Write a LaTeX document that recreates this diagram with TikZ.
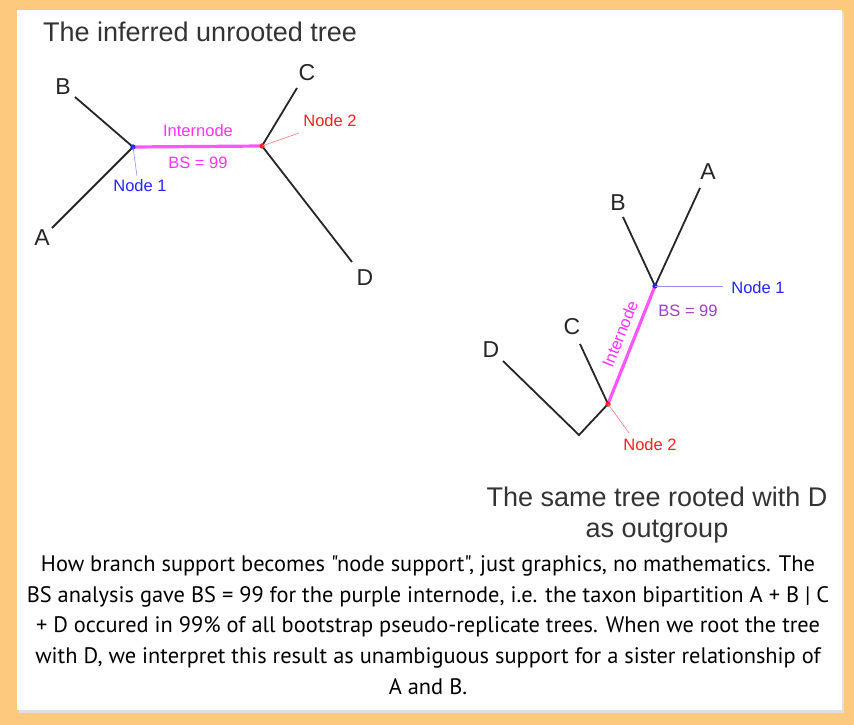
\documentclass[tikz,border=0pt]{standalone}
\usepackage{fontspec}
\setmainfont{Liberation Sans}
\newfontfamily\capfont{PT Sans}
\definecolor{bgorange}{HTML}{FCC97E}
\definecolor{inpink}{HTML}{FF55FF}
\definecolor{bsmag}{HTML}{FF33FF}
\definecolor{bspurp}{HTML}{A040C8}
\definecolor{nblue}{HTML}{2525FF}
\definecolor{nred}{HTML}{FF2020}
\definecolor{txtgray}{HTML}{333333}
\tikzset{
  branch/.style={line width=1.8pt, draw=black!85},
  inter/.style={line width=3.2pt, draw=inpink},
  leaf/.style={font=\fontsize{23}{23}\selectfont, text=black!85, inner sep=0pt},
  small/.style={font=\fontsize{16.5}{16.5}\selectfont, inner sep=0pt},
  ptr/.style={line width=0.6pt},
  dot/.style={circle, fill, inner sep=0pt, minimum size=5pt},
  title/.style={font=\fontsize{27}{31}\selectfont, text=txtgray, inner sep=0pt, align=center},
}
\begin{document}
\begin{tikzpicture}[x=1pt,y=-1pt]
\fill[bgorange] (0,0) rectangle (854,725);
\useasboundingbox (0,0) rectangle (854,725);
\fill[black!12] (19,12) rectangle (844,713);
\fill[white] (17,10) rectangle (842,710);

% ---- left: unrooted tree
\node[title, anchor=west] (t1) at (43,32) {The inferred unrooted tree};
\node[dot, nblue] (n1) at (133,147) {};
\node[dot, nred] (n2) at (262,146) {};
\node[leaf] (lB) at (63,87) {B};
\node[leaf] (lA) at (42,238) {A};
\node[leaf] (lC) at (307,73) {C};
\node[leaf] (lD) at (365,278) {D};
\coordinate (eB) at (75,97);
\coordinate (eA) at (52,228);
\coordinate (eC) at (297,88);
\coordinate (eD) at (352,262);
\draw[inter] (n1.center) -- (n2.center);
\draw[branch] (eB) -- (n1.center) -- (eA);
\draw[branch] (eC) -- (n2.center) -- (eD);
\node[dot, nblue] at (n1) {};
\node[dot, nred] at (n2) {};
\node[small, text=bsmag] (int1) at (198,131) {Internode};
\node[small, text=bsmag] (bs1) at (198,163) {BS = 99};
\node[small, text=nblue] (lab1) at (140,186) {Node 1};
\node[small, text=nred] (lab2) at (330,121) {Node 2};
\draw[ptr, nblue!50] (n1.center) -- (137,176);
\draw[ptr, nred!60] (n2.center) -- (299,133);

% ---- right: rooted tree
\node[dot, nblue] (m1) at (655,286) {};
\node[dot, nred] (m2) at (608,404) {};
\coordinate (root) at (579,435);
\node[leaf] (rA) at (708,172) {A};
\node[leaf] (rB) at (618,203) {B};
\node[leaf] (rC) at (572,327) {C};
\node[leaf] (rD) at (491,350) {D};
\coordinate (fA) at (700,188);
\coordinate (fB) at (623,217);
\coordinate (fC) at (580,344);
\coordinate (fD) at (503,361);
\draw[inter] (m1.center) -- (m2.center);
\draw[branch] (fB) -- (m1.center) -- (fA);
\draw[branch] (fC) -- (m2.center) -- (root) -- (fD);
\node[dot, nblue] at (m1) {};
\node[dot, nred] at (m2) {};
\node[small, text=nblue] (rlab1) at (758,288) {Node 1};
\node[small, text=bspurp] (rbs) at (688,311) {BS = 99};
\node[small, text=bsmag, rotate=68] (int2) at (620,334) {Internode};
\node[small, text=nred] (rlab2) at (650,445) {Node 2};
\draw[ptr, nblue!50] (m1.center) -- (723,286);
\draw[ptr, nred!60] (m2.center) -- (629,433);

\node[title] (t2) at (657,515) {The same tree rooted with D\\as outgroup};

% ---- caption
\node[font=\capfont\fontsize{22.4}{30.8}\selectfont, align=center, inner sep=0pt, text=black] (cap) at (428,625)
{How branch support becomes "node support", just graphics, no mathematics. The\\
BS analysis gave BS = 99 for the purple internode, i.e. the taxon bipartition A + B | C\\
+ D occured in 99\% of all bootstrap pseudo-replicate trees. When we root the tree\\
with D, we interpret this result as unambiguous support for a sister relationship of\\
A and B.};
\end{tikzpicture}
\end{document}
